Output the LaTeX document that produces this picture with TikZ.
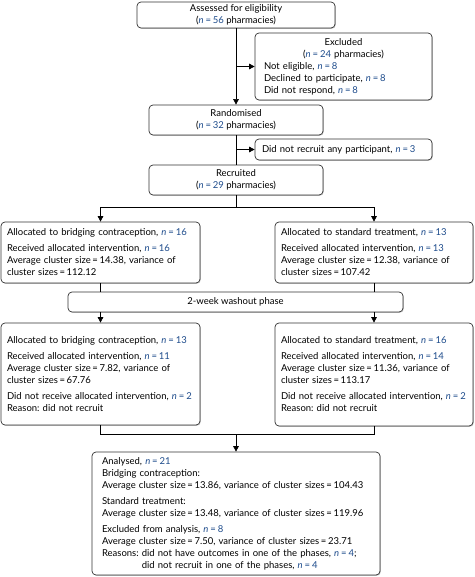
\documentclass[tikz,border=0pt]{standalone}
\usepackage{fontspec}
\setmainfont{Lato}
\usetikzlibrary{arrows.meta,shadows}
\definecolor{nblue}{HTML}{1E4C8C}
\definecolor{boxline}{HTML}{333333}
\newcommand\nval[1]{\textcolor{nblue}{\textit{n}\hspace{0.2em}=\hspace{0.2em}#1}}
\newcommand\eqs{\hspace{0.17em}=\hspace{0.17em}}
\begin{document}
\frenchspacing
\begin{tikzpicture}[x=1pt,y=-1pt,
  box/.style={draw=boxline, fill=white, line width=0.7pt, rounded corners=4pt, inner sep=0pt,
    font=\fontsize{9.5}{12}\selectfont,
    drop shadow={shadow xshift=0.8pt, shadow yshift=-0.8pt, opacity=0.45}},
  lbox/.style={box, align=left},
  arr/.style={-{Triangle[width=5.5pt,length=5.5pt]}, line width=0.6pt},
  ln/.style={line width=0.6pt}]
\useasboundingbox (0,0) rectangle (474,577);

\node[box, minimum width=198pt, minimum height=26pt, align=center] (assess) at (236,15)
  {Assessed for eligibility\\(\nval{56} pharmacies)};

\node[lbox, minimum width=177pt, minimum height=67pt, text width=159pt] (excl) at (343.5,66.5)
  {{\centering Excluded\\(\nval{24} pharmacies)\par}%
   \noindent Not eligible, \nval{8}\\
   Declined to participate, \nval{8}\\
   Did not respond, \nval{8}};

\node[box, minimum width=174pt, minimum height=30pt, align=center] (random) at (236,120)
  {Randomised\\(\nval{32} pharmacies)};

\node[lbox, minimum width=177pt, minimum height=21pt, text width=163pt] (norec) at (343.5,149.5)
  {Did not recruit any participant, \nval{3}};

\node[box, minimum width=174pt, minimum height=30pt, align=center] (recruit) at (236,180)
  {Recruited\\(\nval{29} pharmacies)};

\node[lbox, minimum width=199pt, minimum height=61pt, text width=187pt] (aoneL) at (100.5,252.5)
  {Allocated to bridging contraception, \nval{16}\\[4pt]
   Received allocated intervention, \nval{16}\\
   Average cluster size\eqs 14.38, variance of\\
   cluster sizes\eqs 112.12};

\node[lbox, minimum width=198pt, minimum height=61pt, text width=186pt] (aoneR) at (374,252.5)
  {Allocated to standard treatment, \nval{13}\\[4pt]
   Received allocated intervention, \nval{13}\\
   Average cluster size\eqs 12.38, variance of\\
   cluster sizes\eqs 107.42};

\node[box, minimum width=335pt, minimum height=20pt] (wash) at (235.5,302)
  {2-week washout phase};

\node[lbox, minimum width=199pt, minimum height=102pt, text width=187pt] (atwoL) at (100.5,374)
  {Allocated to bridging contraception, \nval{13}\\[4pt]
   Received allocated intervention, \nval{11}\\
   Average cluster size\eqs 7.82, variance of\\
   cluster sizes\eqs 67.76\\[4pt]
   Did not receive allocated intervention, \nval{2}\\
   Reason: did not recruit};

\node[lbox, minimum width=198pt, minimum height=103pt, text width=186pt] (atwoR) at (374,374.5)
  {Allocated to standard treatment, \nval{16}\\[4pt]
   Received allocated intervention, \nval{14}\\
   Average cluster size\eqs 11.36, variance of\\
   cluster sizes\eqs 113.17\\[4pt]
   Did not receive allocated intervention, \nval{2}\\
   Reason: did not recruit};

\node[lbox, minimum width=288pt, minimum height=123pt, text width=268pt] (anal) at (236,513.5)
  {Analysed, \nval{21}\\
   Bridging contraception:\\
   Average cluster size\eqs 13.86, variance of cluster sizes\eqs 104.43\\[4pt]
   Standard treatment:\\
   Average cluster size\eqs 13.48, variance of cluster sizes\eqs 119.96\\[4pt]
   Excluded from analysis, \nval{8}\\
   Average cluster size\eqs 7.50, variance of cluster sizes\eqs 23.71\\
   Reasons: did not have outcomes in one of the phases, \nval{4};\\
   \phantom{Reasons: }did not recruit in one of the phases, \nval{4}};

% connectors
\draw[arr] (assess.south) -- (random.north);
\draw[arr] (assess.south |- excl.west) -- (excl.west);
\draw[ln] (random.south) -- (recruit.north);
\draw[arr] (random.south |- norec.west) -- (norec.west);
\coordinate (split) at (236,207);
\draw[ln] (recruit.south) -- (split);
\draw[arr] (split) -| (aoneL.north);
\draw[arr] (split) -| (aoneR.north);
\draw[ln] (aoneL.south) -- (aoneL.south |- wash.north);
\draw[ln] (aoneR.south) -- (aoneR.south |- wash.north);
\draw[arr] (atwoL.north |- wash.south) -- (atwoL.north);
\draw[arr] (atwoR.north |- wash.south) -- (atwoR.north);
\coordinate (join) at (236,434);
\draw[ln] (atwoL.south) |- (join);
\draw[ln] (atwoR.south) |- (join);
\draw[arr] (join) -- (anal.north);
\end{tikzpicture}
\end{document}
